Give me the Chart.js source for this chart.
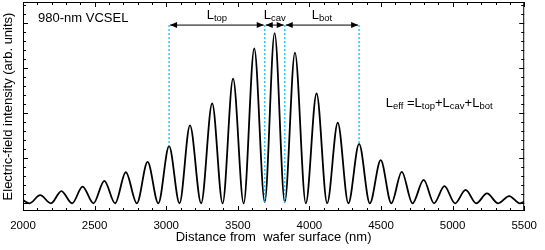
<!DOCTYPE html>
<html>
<head>
<meta charset="utf-8">
<script src="https://cdn.jsdelivr.net/npm/chart.js@4.4.0/dist/chart.umd.min.js"></script>
<style>
  html, body { margin: 0; padding: 0; background: #fff; }
  #wrap { width: 545px; height: 250px; }
</style>
</head>
<body>
<div id="wrap"><canvas id="fieldChart"></canvas></div>
<script>
// peaks and nodes of the standing wave
const distance = [2000, 2045, 2120, 2195, 2268, 2343, 2416, 2492, 2568, 2643, 2718, 2795,
  2870, 2945, 3020, 3093, 3166, 3244, 3321, 3394, 3467, 3541, 3615, 3688, 3757, 3828,
  3899, 3975, 4050, 4124, 4198, 4272, 4347, 4422, 4498, 4572, 4645, 4720, 4798, 4870,
  4943, 5017, 5091, 5165, 5240, 5318, 5395, 5470, 5500];
const intensity = [0.07, 0, 0.18, 0, 0.27, 0, 0.37, 0, 0.50, 0, 0.69, 0,
  0.92, 0, 1.27, 0, 1.73, 0, 2.22, 0, 2.77, 0, 3.44, 0.03, 3.78, 0.03,
  3.35, 0, 2.44, 0, 1.79, 0, 1.32, 0, 0.96, 0, 0.70, 0, 0.52, 0,
  0.38, 0, 0.30, 0, 0.22, 0, 0.16, 0, 0.035];

const xTicks = [2000, 2500, 3000, 3500, 4000, 4500, 5000, 5500];

// layer boundaries (nm) and the curve value where each dotted marker stops
const bounds = [3020, 3688, 3828, 4347];
const boundEnds = [1.27, 0.03, 0.03, 1.32];
const regionNames = ['top', 'cav', 'bot'];

const FONT = '"Liberation Sans", Arial, sans-serif';

function drawParts(ctx, x, y, parts, centered) {
  // parts: [text, isSub]
  const big = '13px ' + FONT, small = '9.5px ' + FONT;
  let w = 0;
  parts.forEach(p => { ctx.font = p[1] ? small : big; w += ctx.measureText(p[0]).width; });
  let cx = centered ? x - w / 2 : x;
  ctx.textAlign = 'left';
  ctx.textBaseline = 'middle';
  parts.forEach(p => {
    ctx.font = p[1] ? small : big;
    ctx.fillText(p[0], cx, p[1] ? y + 3.5 : y);
    cx += ctx.measureText(p[0]).width;
  });
}

function arrowHead(ctx, x, y, dir) {
  ctx.beginPath();
  ctx.moveTo(x, y);
  ctx.lineTo(x - dir * 7, y - 3);
  ctx.lineTo(x - dir * 7, y + 3);
  ctx.closePath();
  ctx.fill();
}

const decor = {
  id: 'decor',
  afterDatasetsDraw(chart) {
    const { ctx, chartArea: a, scales: { x, y } } = chart;
    ctx.save();

    // frame
    ctx.strokeStyle = '#000';
    ctx.lineWidth = 1;
    ctx.strokeRect(a.left + 0.5, a.top + 0.5, a.right - a.left - 1, a.bottom - a.top - 1);

    // inward ticks
    ctx.beginPath();
    for (let v = x.min; v <= x.max; v += 100) {
      const px = Math.round(x.getPixelForValue(v)) + 0.5;
      const len = v % 500 === 0 ? 5 : 3;
      ctx.moveTo(px, a.bottom); ctx.lineTo(px, a.bottom - len);
      ctx.moveTo(px, a.top); ctx.lineTo(px, a.top + len);
    }
    for (let i = 0; i <= 22; i++) {
      const v = i * 0.2;
      if (v > y.max) break;
      const py = Math.round(y.getPixelForValue(v)) + 0.5;
      const len = i % 5 === 0 ? 5 : 3;
      ctx.moveTo(a.left, py); ctx.lineTo(a.left + len, py);
      ctx.moveTo(a.right, py); ctx.lineTo(a.right - len, py);
    }
    ctx.stroke();

    // dotted boundary markers
    const arrowY = y.getPixelForValue(3.96);
    ctx.strokeStyle = '#22c8ee';
    ctx.lineWidth = 1.5;
    ctx.setLineDash([2, 2]);
    bounds.forEach((b, i) => {
      const px = x.getPixelForValue(b);
      ctx.beginPath();
      ctx.moveTo(px, arrowY);
      ctx.lineTo(px, y.getPixelForValue(boundEnds[i]));
      ctx.stroke();
    });
    ctx.setLineDash([]);

    // double arrows with labels
    ctx.strokeStyle = '#000';
    ctx.fillStyle = '#000';
    ctx.lineWidth = 1;
    const labelY = y.getPixelForValue(4.18);
    for (let i = 0; i < regionNames.length; i++) {
      const x0 = x.getPixelForValue(bounds[i]);
      const x1 = x.getPixelForValue(bounds[i + 1]);
      ctx.beginPath();
      ctx.moveTo(x0 + 1, arrowY);
      ctx.lineTo(x1 - 1, arrowY);
      ctx.stroke();
      arrowHead(ctx, x0 + 1, arrowY, -1);
      arrowHead(ctx, x1 - 1, arrowY, 1);
      drawParts(ctx, (x0 + x1) / 2, labelY, [['L', false], [regionNames[i], true]], true);
    }

    // text annotations
    ctx.font = '13px ' + FONT;
    ctx.textAlign = 'left';
    ctx.textBaseline = 'middle';
    ctx.fillText('980-nm VCSEL', x.getPixelForValue(2105), y.getPixelForValue(4.11));

    drawParts(ctx, x.getPixelForValue(4533), y.getPixelForValue(2.23), [
      ['L', false], ['eff', true], [' =L', false], ['top', true], ['+L', false],
      ['cav', true], ['+L', false], ['bot', true]
    ], false);

    ctx.restore();
  }
};

new Chart(document.getElementById('fieldChart'), {
  type: 'line',
  data: {
    datasets: [{
      data: distance.map((d, i) => ({ x: d, y: intensity[i] })),
      borderColor: '#000',
      borderWidth: 1.8,
      pointRadius: 0,
      tension: 0.4,
      cubicInterpolationMode: 'monotone',
      fill: false
    }]
  },
  options: {
    responsive: true,
    maintainAspectRatio: false,
    animation: false,
    layout: { padding: { left: 0, right: 12, top: 2, bottom: 0 } },
    plugins: { legend: { display: false }, tooltip: { enabled: false } },
    scales: {
      x: {
        type: 'linear',
        min: 2000,
        max: 5500,
        afterBuildTicks: s => { s.ticks = xTicks.map(v => ({ value: v })); },
        afterFit: s => { s.height = 39; },
        grid: { display: false, drawTicks: false },
        border: { display: false },
        ticks: {
          color: '#000',
          font: { family: FONT, size: 11.5 },
          padding: 8,
          maxRotation: 0,
          callback: v => String(v)
        },
        title: {
          display: true,
          text: 'Distance from  wafer surface (nm)',
          color: '#000',
          font: { family: FONT, size: 13 },
          padding: { top: 0, bottom: 5 }
        }
      },
      y: {
        min: -0.171,
        max: 4.473,
        afterFit: s => { s.width = 23; },
        grid: { display: false, drawTicks: false },
        border: { display: false },
        ticks: { display: false },
        title: {
          display: true,
          text: 'Electric-field intensity (arb. units)',
          color: '#000',
          font: { family: FONT, size: 13 },
          padding: { top: 1, bottom: 0 }
        }
      }
    }
  },
  plugins: [decor]
});
</script>
</body>
</html>
